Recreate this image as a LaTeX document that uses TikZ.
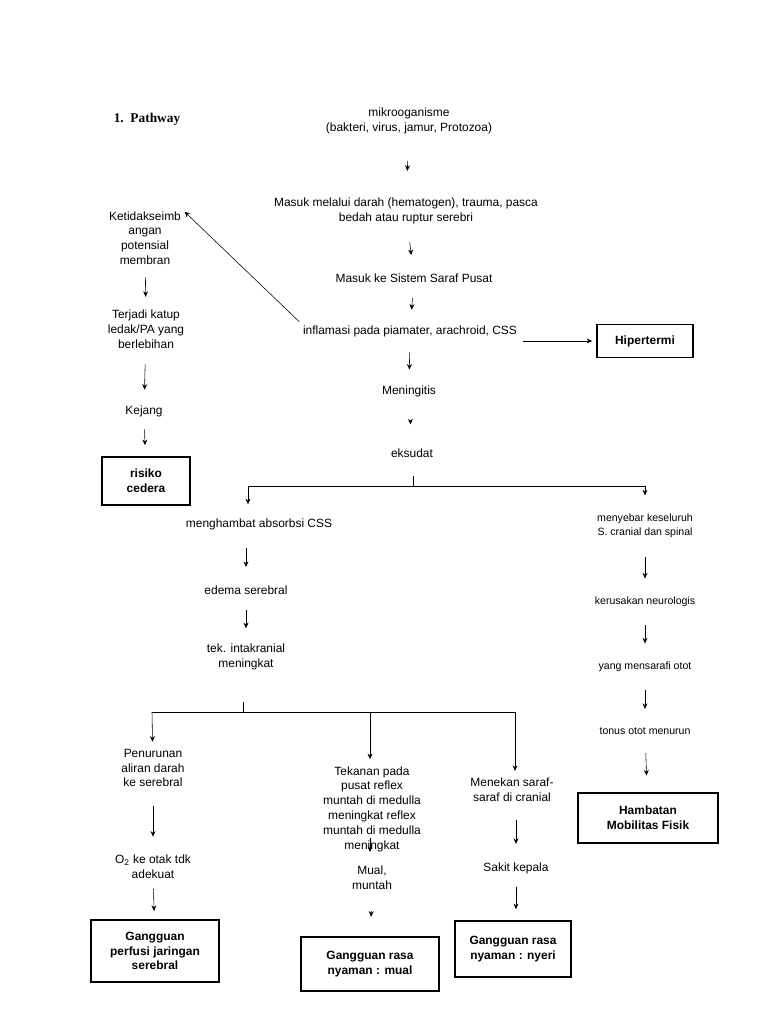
\documentclass[tikz,border=0pt]{standalone}
\usepackage{fontspec}
\setmainfont{Liberation Sans}
\usetikzlibrary{arrows.meta,positioning}
\tikzset{
    % plain text step
    pathtext/.style={align=center, inner sep=1pt, font=\fontsize{8.5}{10.5}\selectfont},
    smalltext/.style={pathtext, font=\fontsize{7.5}{10}\selectfont},
    % outlined diagnosis box
    dxbox/.style={draw, thick, align=center, inner sep=2pt, font=\fontsize{8.5}{10.5}\selectfont\bfseries},
    % arrow style
    flow/.style={-{Stealth[length=4pt,width=3.5pt]}, shorten <=#1, shorten >=#1},
    flow/.default=10pt
}
\begin{document}
\begin{tikzpicture}[x=0.025cm, y=-0.025cm]
    \useasboundingbox (0,0) rectangle (768,1024);

    % title
    \node[font=\fontspec{Liberation Serif}\fontsize{9.5}{11}\selectfont\bfseries] (title) at (147,119) {1.\ \ Pathway};

    % main column
    \node[pathtext] (mikro) at (409,121) {mikrooganisme\\(bakteri, virus, jamur, Protozoa)};
    \node[pathtext] (masuk) at (406,211) {Masuk melalui darah (hematogen), trauma, pasca\\bedah atau ruptur serebri};
    \node[pathtext] (ssp) at (414,278) {Masuk ke Sistem Saraf Pusat};
    \node[pathtext] (inflam) at (410,331) {inflamasi pada piamater, arachroid, CSS};
    \node[dxbox, minimum width=2.4cm, minimum height=0.83cm] (hiper) at (645,341) {Hipertermi};
    \node[pathtext] (mening) at (409,391) {Meningitis};
    \node[pathtext] (eksudat) at (412,453) {eksudat};

    \draw[flow=18pt] (mikro) -- (masuk);
    \draw[flow=12pt] (masuk) -- (ssp);
    \draw[flow=10pt] (ssp) -- (inflam);
    \draw[flow=3pt] (inflam.east |- hiper) -- (hiper);
    \draw[flow=10pt] (inflam) -- (mening);
    \draw[flow=16pt] (mening) -- (eksudat);

    % left column
    \node[pathtext] (ketid) at (145,238) {Ketidakseimb\\angan\\potensial\\membran};
    \node[pathtext] (katup) at (146,329) {Terjadi katup\\ledak/PA yang\\berlebihan};
    \node[pathtext] (kejang) at (144,411) {Kejang};
    \node[dxbox, minimum width=2.2cm, minimum height=1.2cm] (cedera) at (146,481) {risiko\\cedera};

    \draw[flow=2pt] (inflam.north west) -- (ketid.north east);
    \draw[flow=8pt] (ketid) -- (katup);
    \draw[flow=10pt] (katup) -- (kejang);
    \draw[flow=8pt] (kejang) -- (cedera);

    % first branch
    \coordinate (b1) at (413,486);
    \coordinate (b1l) at (248,486);
    \coordinate (b1r) at (645,486);
    \node[pathtext] (hambat) at (259,524) {menghambat absorbsi CSS};
    \node[smalltext] (menyebar) at (645,526) {menyebar keseluruh\\S. cranial dan spinal};
    \draw (b1) -- ++(0,-10);
    \draw (b1l) -- (b1r);
    \draw[flow=0pt, shorten >=14pt] (b1l) -- (b1l |- hambat);
    \draw[flow=0pt, shorten >=12pt] (b1r) -- (menyebar);

    % middle column
    \node[pathtext] (edema) at (246,590) {edema serebral};
    \node[pathtext] (tik) at (246,657) {tek. intakranial\\meningkat};
    \draw[flow=12pt] (hambat.south -| edema) -- (edema);
    \draw[flow=10pt] (edema) -- (tik);

    % right column
    \node[smalltext] (neuro) at (645,602) {kerusakan neurologis};
    \node[smalltext] (otot) at (645,667) {yang mensarafi otot};
    \node[smalltext] (tonus) at (645,731) {tonus otot menurun};
    \node[dxbox, minimum width=3.5cm, minimum height=1.25cm] (mobil) at (648,818) {Hambatan\\Mobilitas Fisik};
    \draw[flow=12pt] (menyebar) -- (neuro);
    \draw[flow=12pt] (neuro) -- (otot);
    \draw[flow=12pt] (otot) -- (tonus);
    \draw[flow=12pt] (tonus) -- (mobil);

    % second branch
    \coordinate (b2) at (243,712);
    \coordinate (b2l) at (152,712);
    \coordinate (b2m) at (370,712);
    \coordinate (b2r) at (515,712);
    \draw (b2) -- ++(0,-10);
    \draw (b2l) -- (b2r);

    \node[pathtext] (turun) at (153,768) {Penurunan\\aliran darah\\ke serebral};
    \node[pathtext] (otak) at (153,867) {O\textsubscript{2} ke otak tdk\\adekuat};
    \node[dxbox, minimum width=3.2cm, minimum height=1.55cm] (perfusi) at (155,951) {Gangguan\\perfusi jaringan\\serebral};
    \draw[flow=0pt, shorten >=4pt] (b2l) -- (turun);
    \draw[flow=12pt] (turun) -- (otak);
    \draw[flow=6pt] (otak) -- (perfusi);

    \node[pathtext] (tekanan) at (372,809) {Tekanan pada\\pusat reflex\\muntah di medulla\\meningkat reflex\\muntah di medulla\\meningkat};
    \node[pathtext] (mual) at (372,878) {Mual,\\muntah};
    \node[dxbox, minimum width=3.45cm, minimum height=1.35cm] (nmual) at (370,964) {Gangguan rasa\\nyaman : mual};
    \coordinate (tm1) at (370,838);
    \coordinate (tm2) at (370,852);
    \draw[flow=0pt, shorten >=4pt] (b2m) -- (b2m |- tekanan.north);
    \draw[flow=0pt] (tm1) -- (tm2);
    \draw[flow=14pt] (mual) -- (nmual);

    \node[pathtext] (menekan) at (512,790) {Menekan saraf-\\saraf di cranial};
    \node[pathtext] (sakit) at (516,868) {Sakit kepala};
    \node[dxbox, minimum width=2.9cm, minimum height=1.4cm] (nnyeri) at (513,949) {Gangguan rasa\\nyaman : nyeri};
    \draw[flow=0pt, shorten >=4pt] (b2r) -- (b2r |- menekan.north);
    \draw[flow=12pt] (menekan.south -| sakit) -- (sakit);
    \draw[flow=8pt] (sakit) -- (nnyeri.north -| sakit);
\end{tikzpicture}
\end{document}
